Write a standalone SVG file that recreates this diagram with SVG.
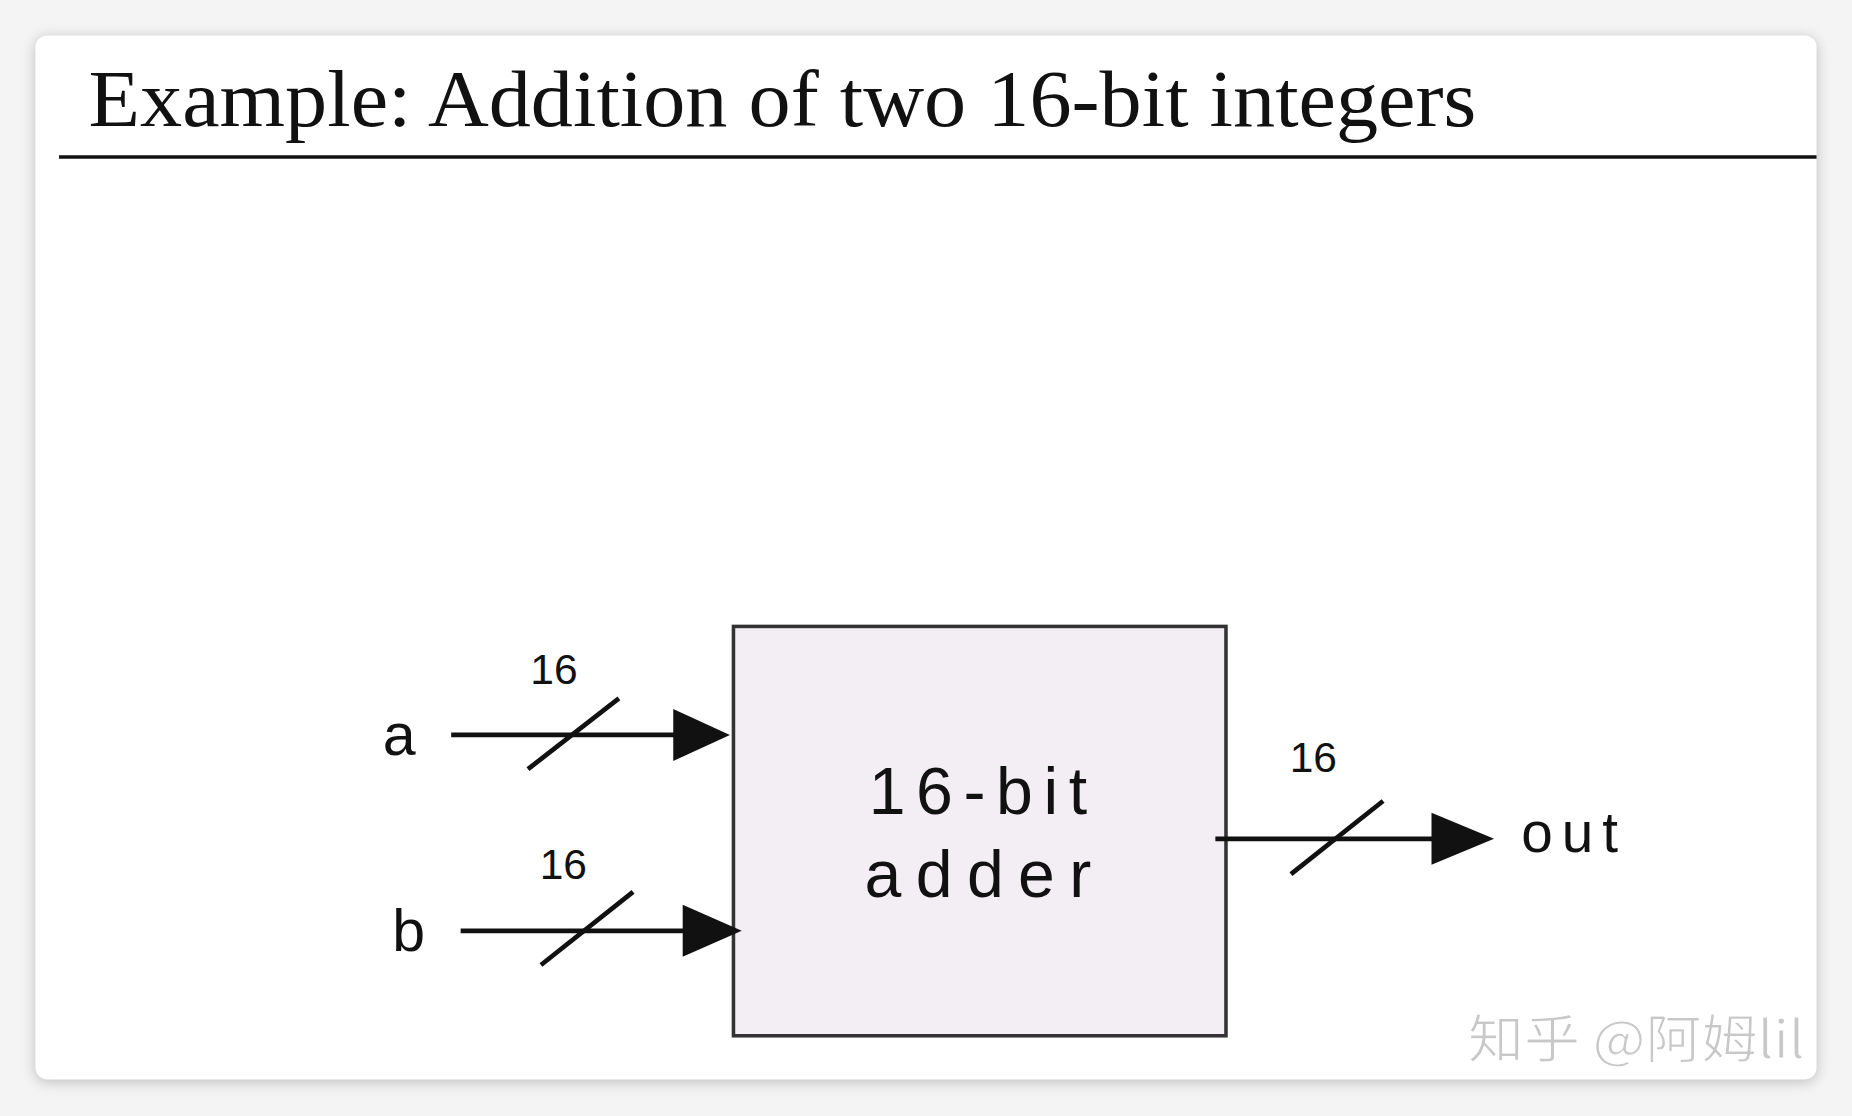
<svg xmlns="http://www.w3.org/2000/svg" width="1852" height="1116" viewBox="0 0 1852 1116">
<defs>
<style>
.lbl{font-family:"Liberation Sans",Arial,sans-serif;fill:#111}
.w{stroke:#111;stroke-width:4;fill:none}
</style>
<filter id="sh" x="-5%" y="-5%" width="110%" height="110%"><feGaussianBlur stdDeviation="6"/></filter>
</defs>
<rect width="1852" height="1116" fill="#f4f4f4"/>
<g transform="scale(1.1811 1.1797)">
<rect x="30" y="32" width="1508" height="885" rx="10" fill="#bbb" filter="url(#sh)"/>
<rect x="30" y="30" width="1508" height="885" rx="10" fill="#fff"/>
<g id="title">
<text x="75" y="107" font-family="Liberation Serif,serif" font-size="68" fill="#111" textLength="1175" lengthAdjust="spacingAndGlyphs">Example: Addition of two 16-bit integers</text>
<line x1="50" y1="133" x2="1538" y2="133" stroke="#111" stroke-width="3"/>
</g>
<g id="adder">
<rect x="621" y="531" width="417" height="347" fill="#f3eef3" stroke="#333" stroke-width="3"/>
<text class="lbl" x="828" y="690" font-size="56" text-anchor="middle" textLength="185" lengthAdjust="spacing">16-bit</text>
<text class="lbl" x="828" y="760" font-size="56" text-anchor="middle" textLength="192" lengthAdjust="spacing">adder</text>
</g>
<g id="in-a"><text class="lbl" x="338" y="640" font-size="50" text-anchor="middle">a</text><text class="lbl" x="469" y="580" font-size="36" text-anchor="middle">16</text></g>
<g id="in-b"><text class="lbl" x="346" y="806" font-size="50" text-anchor="middle">b</text><text class="lbl" x="477" y="745" font-size="36" text-anchor="middle">16</text></g>
<g id="out"><text class="lbl" x="1288" y="722" font-size="48" textLength="82" lengthAdjust="spacing">out</text><text class="lbl" x="1112" y="654" font-size="36" text-anchor="middle">16</text></g>
<g id="connectors">
<line class="w" x1="382" y1="623" x2="575" y2="623"/><path d="M570,601 L618,623 L570,645 Z" fill="#111"/>
<line class="w" x1="447" y1="652" x2="524" y2="592"/>
<line class="w" x1="390" y1="789" x2="580" y2="789"/><path d="M578,767 L628,789 L578,811 Z" fill="#111"/>
<line class="w" x1="458" y1="818" x2="536" y2="756"/>
<line class="w" x1="1029" y1="711" x2="1215" y2="711"/><path d="M1212,689 L1265,711 L1212,733 Z" fill="#111"/>
<line class="w" x1="1093" y1="741" x2="1171" y2="679"/>
</g>
<text x="1243" y="897" font-family="Noto Sans CJK SC,sans-serif" font-size="44" fill="#c8c8c8" stroke="#fff" stroke-width="1" textLength="285" lengthAdjust="spacingAndGlyphs">知乎 @阿姆lil</text>
</g>
</svg>
